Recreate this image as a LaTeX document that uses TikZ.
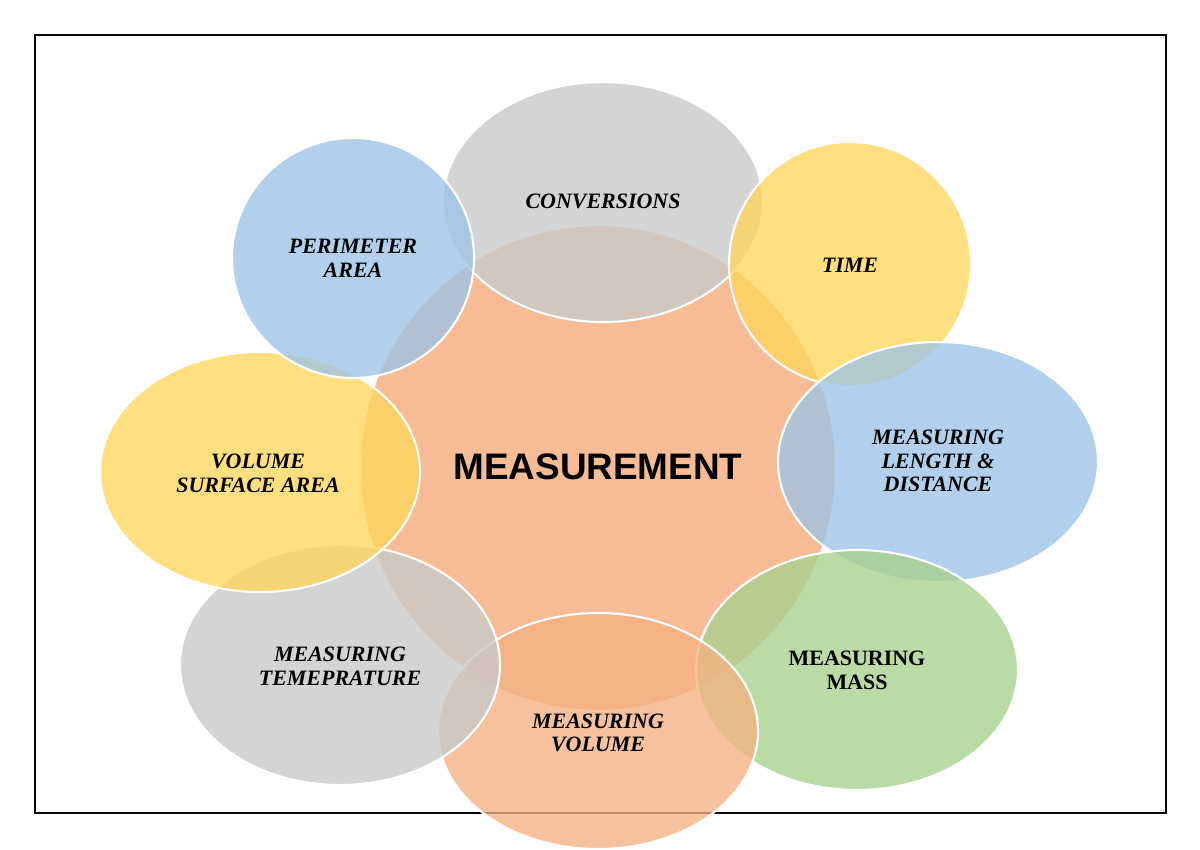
\documentclass[tikz,border=0pt]{standalone}
\usepackage{fontspec}
\setmainfont{Liberation Serif}
\newfontfamily\hdfont{Liberation Sans}
\definecolor{cgray}{HTML}{C9C9C9}
\definecolor{cyel}{HTML}{FFD65C}
\definecolor{cblue}{HTML}{9DC3E6}
\definecolor{cgreen}{HTML}{A9D18E}
\definecolor{corange}{HTML}{F4B183}
\begin{document}
\begin{tikzpicture}[x=0.02cm,y=-0.02cm,
  sat/.style={draw=white,line width=1.2pt,fill opacity=0.78},
  lbl/.style={font=\fontsize{12.5}{13.5}\selectfont\bfseries\itshape,align=center,text=black}]
\useasboundingbox (0,0) rectangle (1200,849);
\clip (0,0) rectangle (1200,849);
\fill[white] (0,0) rectangle (1200,849);
\draw[line width=1.2pt] (35,35) rectangle (1166,813);
\path[sat,fill=corange,fill opacity=0.85] (598,468) ellipse [x radius=238,y radius=243];
\path[sat,fill=cgray] (603,202) ellipse [x radius=160,y radius=120];
\path[sat,fill=cyel] (850,264) ellipse [x radius=121,y radius=122];
\path[sat,fill=cblue] (938,462) ellipse [x radius=160,y radius=120];
\path[sat,fill=cgreen] (857,670) ellipse [x radius=161,y radius=120];
\path[sat,fill=corange] (598,731) ellipse [x radius=160,y radius=118];
\path[sat,fill=cgray] (340,665) ellipse [x radius=160,y radius=120];
\path[sat,fill=cyel] (260,472) ellipse [x radius=160,y radius=120];
\path[sat,fill=cblue] (353,258) ellipse [x radius=121,y radius=120];
\node[lbl] (conv) at (603,201) {CONVERSIONS};
\node[lbl] (time) at (850,265) {TIME};
\node[lbl] (len) at (938,461) {MEASURING\\LENGTH \&\\DISTANCE};
\node[lbl,font=\fontsize{12.5}{13.5}\selectfont\bfseries] (mass) at (857,670) {MEASURING\\MASS};
\node[lbl] (vol) at (598,733) {MEASURING\\VOLUME};
\node[lbl] (temp) at (340,666) {MEASURING\\TEMEPRATURE};
\node[lbl] (vsa) at (258,473) {VOLUME\\SURFACE AREA};
\node[lbl] (per) at (353,258) {PERIMETER\\AREA};
\node[font=\hdfont\fontsize{21}{24}\selectfont\bfseries] (m) at (598,467) {MEASUREMENT};
\end{tikzpicture}
\end{document}
